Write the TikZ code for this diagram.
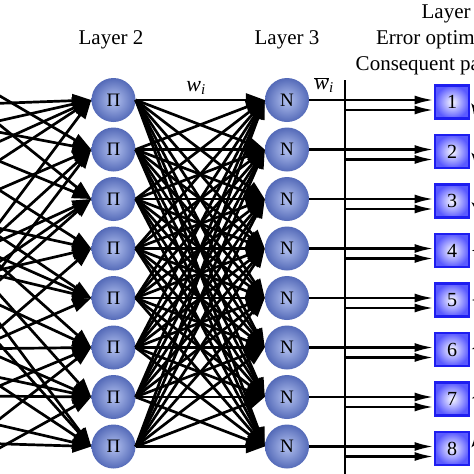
\documentclass[tikz,border=0pt]{standalone}
\usepackage{fontspec}
\setmainfont{Liberation Serif}
\usetikzlibrary{arrows.meta,calc}
\definecolor{nin}{RGB}{180,194,240}
\definecolor{nout}{RGB}{84,106,184}
\definecolor{bblue}{RGB}{30,30,240}
\definecolor{bout}{RGB}{90,90,255}
\definecolor{bin}{RGB}{248,248,255}
\begin{document}
\begin{tikzpicture}[x=1pt,y=-1pt,
  conn/.style={line width=2.7pt, -{Triangle[length=19pt,width=13pt]}},
  outarrow/.style={line width=2.5pt, -{Latex[length=19pt,width=9pt]}},
  sidearrow/.style={line width=2.5pt, -{Latex[length=12pt,width=8pt]}},
  neuron/.style={circle, minimum size=44pt, inner sep=0pt, shading=radial,
    inner color=nin, outer color=nout, font=\fontsize{19}{20}\selectfont},
  parambox/.style={rectangle, minimum width=34pt, minimum height=33pt, inner sep=0pt,
    draw=bblue, line width=2.8pt, shading=radial, inner color=bin, outer color=bout,
    font=\fontsize{20}{20}\selectfont},
  ttl/.style={font=\fontsize{21}{26}\selectfont, align=center, inner sep=0pt},
  lbl/.style={font=\fontsize{22}{24}\selectfont, inner sep=0pt}
]
\useasboundingbox (0,0) rectangle (474,474);
\clip (0,0) rectangle (474,474);
\fill[white] (0,0) rectangle (474,474);

% layer 1 sources (off picture)
\coordinate (S0) at (-130,108);
\coordinate (S1) at (-130,150);
\coordinate (S2) at (-130,200);
\coordinate (S3) at (-130,245);
\coordinate (S4) at (-130,300);
\coordinate (S5) at (-130,350);
\coordinate (S6) at (-130,395);
\coordinate (S7) at (-130,440);
\coordinate (S8) at (-130,20);
\coordinate (S9) at (-130,520);

% titles
\node[ttl] (t2) at (111,40) {Layer 2};
\node[ttl] (t3) at (287,40) {Layer 3};
\node[ttl] (t4) at (454,40) {Layer 4\\Error optimization\\Consequent parameters};

% nodes
\foreach \i/\y in {1/100,2/149.5,3/199,4/248.5,5/298,6/347.5,7/397,8/446.5}{
  \node[neuron] (P\i) at (113.5,\y) {Π};
  \node[neuron] (N\i) at (287,\y) {N};
  \node[parambox] (B\i) at (452,\y+2) {\i};
  \coordinate (V\i) at (345,\y+10);
}

% labels
\node[lbl] (w) at (196,88) {$\mbox{\itshape w}_{\mbox{\fontsize{15}{15}\selectfont\itshape i}}$};
\node[lbl] (wb) at (324,85) {$\overline{\mbox{\itshape w}}_{\mbox{\fontsize{15}{15}\selectfont\itshape i}}$};

% layer 1 -> layer 2
\foreach \s/\r in {0/1,0/2,0/3,0/4,1/5,1/6,1/7,1/8,
                   3/1,3/2,4/3,4/4,3/5,3/6,4/7,4/8,
                   6/1,7/2,6/3,7/4,6/5,7/6,6/7,7/8,
                   2/1,5/2,5/3,2/4,2/5,5/6,5/7,2/8,
                   8/2,8/3,9/6,9/7,1/1,6/8}{
  \draw[conn] (S\s) -- (P\r.west);
}

% layer 2 -> layer 3
\foreach \a in {1,...,8}{
  \foreach \b in {1,...,8}{
    \draw[conn] (P\a.east) -- (N\b.west);
  }
}

% vertical bus
\coordinate (vtop) at (345,80);
\coordinate (vbot) at (345,480);
\draw[line width=2.7pt] (vtop) -- (vbot);

% layer 3 -> layer 4
\foreach \i in {1,...,8}{
  \draw[outarrow] (N\i.east) -- (N\i.east -| B\i.west);
  \draw[outarrow] (V\i) -- (V\i -| B\i.west);
}

% inputs entering from the right
\foreach \i/\dx/\dy in {1/20/30,2/20/25,3/20/20,4/25/0,5/25/0,6/25/-8,7/25/-10,8/20/-25}{
  \coordinate (R\i) at ($(B\i.east)+(\dx,\dy)$);
  \draw[sidearrow] (R\i) -- (B\i.east);
}
\end{tikzpicture}
\end{document}
